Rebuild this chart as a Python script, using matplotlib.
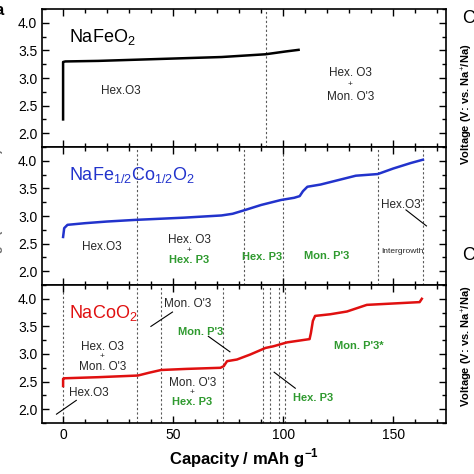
import matplotlib
matplotlib.use("Agg")
import matplotlib.pyplot as plt
from matplotlib.ticker import MultipleLocator

plt.rcParams['font.family'] = ['Liberation Sans', 'DejaVu Sans']
plt.rcParams['mathtext.fontset'] = 'custom'
plt.rcParams['mathtext.rm'] = 'Liberation Sans'
plt.rcParams['mathtext.bf'] = 'Liberation Sans:bold'

GREEN = "#2f9a2f"

# NaFeO2 (top)
fe_cap = [0, 0, 1, 16, 40, 72, 92, 101, 107]
fe_v = [2.25, 3.29, 3.30, 3.31, 3.34, 3.38, 3.43, 3.48, 3.51]
fe_lines = [92]

# NaFe1/2Co1/2O2 (middle)
feco_cap = [0, 0.5, 2, 10, 20, 33, 55, 72, 77, 82, 90, 99, 105, 107.5,
            109, 111, 117, 124, 133, 143, 150, 158, 163.5]
feco_v = [2.62, 2.78, 2.84, 2.87, 2.90, 2.93, 2.97, 3.01, 3.04, 3.10, 3.20,
          3.29, 3.33, 3.36, 3.45, 3.53, 3.57, 3.64, 3.73, 3.76, 3.86, 3.96, 4.02]
feco_lines = [33.5, 82, 100, 143, 163.5]

# NaCoO2 (bottom)
co_cap = [0, 0, 0.5, 16, 34, 39, 44.5, 56, 71.5, 73, 74.5, 79, 85, 92, 95.6,
          101.7, 112, 112.6, 113.5, 114.5, 121.4, 129, 138, 162, 163]
co_v = [2.42, 2.55, 2.56, 2.58, 2.61, 2.66, 2.71, 2.73, 2.75, 2.78, 2.87,
        2.90, 2.99, 3.11, 3.14, 3.21, 3.27, 3.38, 3.60, 3.69, 3.72, 3.77,
        3.89, 3.94, 4.00]
co_lines = [0, 33.5, 44.5, 72.6, 91, 94, 98, 101]

# (text, x, y, color, bold, size)
fe_labels = [
    ("Hex.O3", 26, 2.77, "0.15", False, 8.5),
    ("Hex. O3", 130.5, 3.09, "0.15", False, 8.5),
    ("+", 130.5, 2.88, "0.15", False, 6),
    ("Mon. O'3", 130.5, 2.66, "0.15", False, 8.5),
]
feco_labels = [
    ("Hex.O3", 17.7, 2.43, "0.15", False, 8.5),
    ("Hex. O3", 57.3, 2.56, "0.15", False, 8.5),
    ("+", 57.3, 2.38, "0.15", False, 6),
    ("Hex. P3", 57.3, 2.20, GREEN, True, 8),
    ("Hex. P3", 90.3, 2.25, GREEN, True, 8),
    ("Mon. P'3", 119.9, 2.27, GREEN, True, 8),
    ("Hex.O3'", 154, 3.20, "0.15", False, 8.5),
    ("Intergrowth", 154, 2.36, "0.15", False, 6),
]
co_labels = [
    ("Hex. O3", 17.9, 3.12, "0.15", False, 8.5),
    ("+", 17.9, 2.95, "0.15", False, 6),
    ("Mon. O'3", 17.9, 2.76, "0.15", False, 8.5),
    ("Hex.O3", 11.8, 2.30, "0.15", False, 8.5),
    ("Mon. O'3", 56.8, 3.91, "0.15", False, 8.5),
    ("Mon. P'3", 62.6, 3.39, GREEN, True, 8),
    ("Mon. O'3", 58.8, 2.48, "0.15", False, 8.5),
    ("+", 58.8, 2.30, "0.15", False, 6),
    ("Hex. P3", 58.8, 2.13, GREEN, True, 8),
    ("Mon. P'3*", 134.5, 3.14, GREEN, True, 8),
    ("Hex. P3", 113.6, 2.20, GREEN, True, 8),
]
# leader lines: (x0, x1, y0, y1)
feco_leaders = [(155.8, 165.1, 3.11, 2.82)]
co_leaders = [(-3, 6, 1.91, 2.16), (39.9, 49.7, 3.50, 3.76),
              (66, 75.8, 3.32, 3.04), (95.9, 105.5, 2.67, 2.38)]

fig = plt.figure(figsize=(4.74, 4.74), dpi=100)
gs = fig.add_gridspec(3, 1, left=0.089, right=0.941, top=0.981,
                      bottom=0.1076, hspace=0)
axes = [fig.add_subplot(gs[i]) for i in range(3)]

panels = [
    (fe_cap, fe_v, "black", fe_lines, fe_labels, [],
     r"NaFeO$_2$", "black"),
    (feco_cap, feco_v, "#2233cc", feco_lines, feco_labels, feco_leaders,
     r"NaFe$_{1/2}$Co$_{1/2}$O$_2$", "#2233cc"),
    (co_cap, co_v, "#e01010", co_lines, co_labels, co_leaders,
     r"NaCoO$_2$", "#e01010"),
]

for ax, (cap, v, col, lines, labels, leaders, name, ncol) in zip(axes, panels):
    for xl in lines:
        ax.axvline(xl, color="0.35", lw=0.8, ls=(0, (2, 2)), zorder=1)
    ax.plot(cap, v, color=col, lw=1.8, zorder=3)
    for t, x, y, c, b, s in labels:
        ax.text(x, y, t, color=c, fontsize=s, ha="center", va="center",
                fontweight="bold" if b else "normal")
    for x0, x1, y0, y1 in leaders:
        ax.plot([x0, x1], [y0, y1], color="black", lw=0.8)
    ax.text(2.5, 3.65, name, color=ncol, fontsize=13, ha="left",
            va="baseline")
    ax.set_xlim(-9.5, 174)
    ax.set_ylim(1.75, 4.25)
    ax.xaxis.set_major_locator(MultipleLocator(50))
    ax.xaxis.set_minor_locator(MultipleLocator(10))
    ax.yaxis.set_major_locator(MultipleLocator(0.5))
    ax.yaxis.set_minor_locator(MultipleLocator(0.25))
    ax.tick_params(which="both", direction="in", top=True, right=True,
                   width=1.0, labelsize=10)
    ax.tick_params(which="major", length=5)
    ax.tick_params(which="minor", length=3)
    for sp in ax.spines.values():
        sp.set_linewidth(1.2)
    if ax is not axes[-1]:
        ax.tick_params(labelbottom=False)

axes[-1].set_xlabel(r"Capacity / mAh g$^{\mathbf{-1}}$", fontsize=12,
                    fontweight="bold", labelpad=3)

# fragments of neighbouring panels cut by the crop
fig.text(-0.011, 0.978, "a", fontsize=12, fontweight="bold", va="center")
fig.text(-0.004, 0.545, r"Voltage (V: vs. Na$^{+}$/Na)", rotation=90,
         fontsize=9, fontweight="bold", ha="center", va="center",
         color="0.45")
fig.text(0.975, 0.962, "C", fontsize=13, va="center", ha="left")
fig.text(0.985, 0.78, r"Voltage (V: vs. Na$^{+}$/Na)", rotation=90,
         fontsize=8, fontweight="bold", ha="center", va="center")
fig.text(0.975, 0.46, "C", fontsize=13, va="center", ha="left")
fig.text(0.985, 0.27, r"Voltage (V: vs. Na$^{+}$/Na)", rotation=90,
         fontsize=8, fontweight="bold", ha="center", va="center")

fig.savefig("out.png", dpi=100)
